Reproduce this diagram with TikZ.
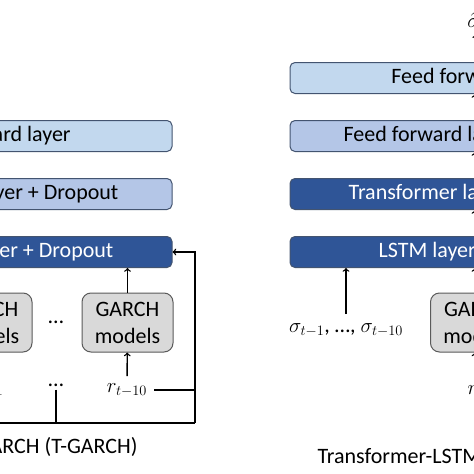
\documentclass[tikz,border=0pt]{standalone}
\usepackage{fontspec}
\setmainfont{Carlito}
\usetikzlibrary{shapes,arrows}
\definecolor{paleblue}{HTML}{C2D8EE}
\definecolor{midblue}{HTML}{B4C6E7}
\definecolor{deepblue}{HTML}{2F5597}
\definecolor{frame}{HTML}{435470}
\definecolor{greybox}{HTML}{D9D9D9}
\definecolor{greyframe}{HTML}{5A5A5A}

\begin{document}
\begin{tikzpicture}[x=1pt, y=-1pt, node distance=58pt, auto,
    font=\fontsize{22}{27}\selectfont]
    % Define block styles
    \tikzstyle{block} = [rectangle, draw=frame, line width=1pt, rounded corners=5pt,
        minimum width=370pt, minimum height=31pt, text centered, inner sep=0pt]
    \tikzstyle{light} = [block, fill=paleblue]
    \tikzstyle{mid} = [block, fill=midblue]
    \tikzstyle{dark} = [block, fill=deepblue, text=white]
    \tikzstyle{garch} = [rectangle, draw=greyframe, line width=1pt, fill=greybox,
        rounded corners=9pt, align=center, minimum width=91pt, minimum height=59pt, inner sep=2pt]
    \tikzstyle{input} = [inner sep=7pt]
    \tikzstyle{line} = [draw, line width=1.4pt, ->]
    \tikzstyle{wire} = [draw, line width=1.4pt]

    \useasboundingbox (0,0) rectangle (474,474);
    \clip (0,0) rectangle (474,474);

    % T-GARCH
    \node [light] (ffL) at (-13,136) {Feed forward layer};
    \node [mid, below of=ffL] (ffdL) {Feed forward layer + Dropout};
    \node [dark, below of=ffdL] (trL) {Transformer layer + Dropout};
    \node [garch] (garchA) at (-13.5,322.5) {GARCH\\models};
    \node [garch] (garchC) at (127.5,322.5) {GARCH\\models};
    \node (dotsG) at (56,322) {\ldots};
    \node [input] (rA) at (-13,390) {$r_{t-1}$};
    \node [input] (rC) at (127,390) {$r_{t-10}$};
    \node [input, inner sep=3pt] (dotsR) at (56,385) {\ldots};
    \coordinate (fb) at (195,423);
    \node [anchor=east] (capL) at (141,447) {Transformer-GARCH (T-GARCH)};

    % T-GARCH paths
    \path [line] (rA) -- (garchA);
    \path [line] (garchA) -- (garchA.north |- trL.south);
    \path [line] (rC) -- (garchC);
    \path [line] (garchC) -- (garchC.north |- trL.south);
    \path [wire] (rA.south) |- (fb);
    \path [wire] (dotsR.south) -- (dotsR.south |- fb);
    \path [wire] (rC.east) -- (rC.east -| fb);
    \path [line] (fb) |- (trL.east);

    % Transformer-LSTM
    \node (out) at (476,22) {$\hat{\sigma}_t$};
    \node [light] (ffR) at (475,78) {Feed forward layer};
    \node [mid, below of=ffR] (ffdR) {Feed forward layer + Dropout};
    \node [dark, below of=ffdR] (trR) {Transformer layer + Dropout};
    \node [dark, below of=trR] (lstmR) {LSTM layer + Dropout};
    \node [garch] (garchR) at (476,322.5) {GARCH\\models};
    \node [input] (rR) at (475,392) {$r_t$};
    \node [input, inner sep=9pt] (sig) at (346,330) {$\sigma_{t-1}$, \ldots, $\sigma_{t-10}$};
    \node [anchor=west] (capR) at (314,457) {Transformer-LSTM-GARCH (TL-GARCH)};

    % Transformer-LSTM paths
    \path [line] (ffR) -- (out);
    \path [line] (ffdR) -- (ffR);
    \path [line] (trR) -- (ffdR);
    \path [line] (lstmR) -- (trR);
    \path [line] (garchR.north -| lstmR) -- (lstmR);
    \path [line] (rR) -- (rR |- garchR.south);
    \path [line] (sig) -- (sig.north |- lstmR.south);

\end{tikzpicture}
\end{document}
